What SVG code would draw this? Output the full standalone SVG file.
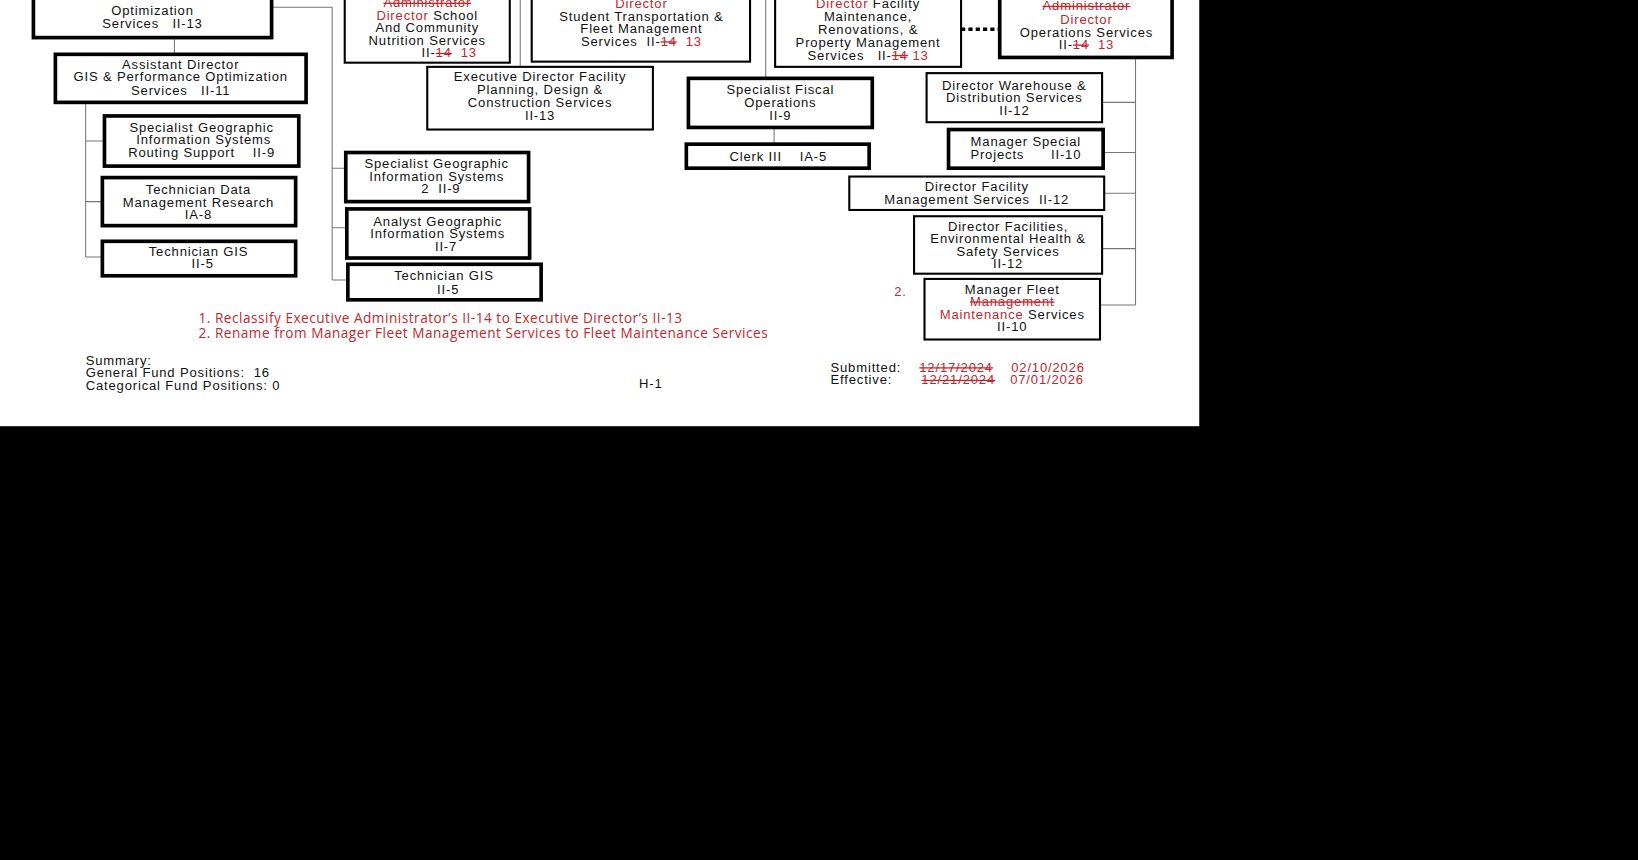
<svg xmlns="http://www.w3.org/2000/svg" width="1638" height="860" viewBox="0 0 1638 860" xml:space="preserve">
<style>
text{font-family:"Liberation Sans",Arial,sans-serif;font-size:12.5px;letter-spacing:0.8px;fill:#111;text-anchor:middle;white-space:pre}
.r{fill:#c0272d}
.s{fill:#c0272d;text-decoration:line-through}
.note{font-family:"Open Sans","Liberation Sans",sans-serif;font-size:13px;letter-spacing:0.5px;fill:#c0272d;text-anchor:start}
.l{text-anchor:start}
.b4{fill:#fff;stroke:#000;stroke-width:3.5}
.b2{fill:#fff;stroke:#000;stroke-width:2}
.c{fill:none;stroke:#777;stroke-width:1}
</style>
<rect width="1638" height="860" fill="#000"/>
<g transform="scale(1.04464)">
<rect x="0" y="0" width="1148" height="408" fill="#fff"/>
<g id="connectors">
<path class="c" d="M167 36V52M82 98V246M82 135H100M82 193H98M82 246H98M260 7H318V268M318 161H331M318 218H332M318 268H333M498 0V64M733 0V75M741 122V138M1087 55V292M1055 98H1087M1056 146H1087M1057 185H1087M1055 238H1087M1053 292H1087"/>
<path d="M920 28H957" stroke="#000" stroke-width="3.5" stroke-dasharray="4 3"/>
</g>
<g id="n1"><rect class="b4" x="32" y="-6" width="228" height="42"/><text x="146" y="-1">GIS &amp; Performance</text><text x="146" y="14">Optimization</text><text x="146" y="27">Services   II-13</text></g>
<g id="n2"><rect class="b4" x="53" y="52" width="240" height="46"/><text x="173" y="66">Assistant Director</text><text x="173" y="78">GIS &amp; Performance Optimization</text><text x="173" y="91">Services   II-11</text></g>
<g id="n3"><rect class="b4" x="100" y="111" width="186" height="48"/><text x="193" y="126">Specialist Geographic</text><text x="195" y="138">Information Systems</text><text x="193" y="150">Routing Support    II-9</text></g>
<g id="n4"><rect class="b4" x="98" y="170" width="185" height="46"/><text x="190" y="186">Technician Data</text><text x="190" y="198">Management Research</text><text x="190" y="210">IA-8</text></g>
<g id="n5"><rect class="b4" x="98" y="231" width="185" height="33"/><text x="190" y="245">Technician GIS</text><text x="194" y="257">II-5</text></g>
<g id="n6"><rect class="b4" x="331" y="146" width="175" height="47"/><text x="418" y="161">Specialist Geographic</text><text x="418" y="173">Information Systems</text><text x="422" y="185">2  II-9</text></g>
<g id="n7"><rect class="b4" x="332" y="200" width="175" height="47"/><text x="419" y="216">Analyst Geographic</text><text x="419" y="228">Information Systems</text><text x="427" y="240">II-7</text></g>
<g id="n8"><rect class="b4" x="333" y="253" width="185" height="34"/><text x="425" y="268">Technician GIS</text><text x="429" y="281">II-5</text></g>
<g id="n9"><rect class="b2" x="330" y="-6" width="158" height="66"/><text x="409" y="7" class="s">Administrator</text><text x="409" y="19"><tspan class="r">Director</tspan> School</text><text x="409" y="31">And Community</text><text x="409" y="43">Nutrition Services</text><text x="430" y="55">II-<tspan class="s">14</tspan>  <tspan class="r">13</tspan></text></g>
<g id="n10"><rect class="b2" x="509" y="-6" width="209" height="65"/><text x="614" y="8" class="r">Director</text><text x="614" y="20">Student Transportation &amp;</text><text x="614" y="32">Fleet Management</text><text x="614" y="44">Services  II-<tspan class="s">14</tspan>  <tspan class="r">13</tspan></text></g>
<g id="n11"><rect class="b2" x="409" y="64" width="216" height="60"/><text x="517" y="78">Executive Director Facility</text><text x="517" y="90">Planning, Design &amp;</text><text x="517" y="102">Construction Services</text><text x="517" y="115">II-13</text></g>
<g id="n12"><rect class="b2" x="742" y="-6" width="178" height="70"/><text x="831" y="8"><tspan class="r">Director</tspan> Facility</text><text x="831" y="20">Maintenance,</text><text x="831" y="33">Renovations, &amp;</text><text x="831" y="45">Property Management</text><text x="831" y="57">Services   II-<tspan class="s">14</tspan> <tspan class="r">13</tspan></text></g>
<g id="n13"><rect class="b4" x="957" y="-6" width="165" height="61"/><text x="1040" y="10" class="s">Administrator</text><text x="1040" y="23" class="r">Director</text><text x="1040" y="35">Operations Services</text><text x="1040" y="47">II-<tspan class="s">14</tspan>  <tspan class="r">13</tspan></text></g>
<g id="n14"><rect class="b4" x="659" y="75" width="176" height="47"/><text x="747" y="90">Specialist Fiscal</text><text x="747" y="102">Operations</text><text x="747" y="115">II-9</text></g>
<g id="n15"><rect class="b4" x="657" y="138" width="175" height="23"/><text x="745" y="154">Clerk III    IA-5</text></g>
<g id="n16"><rect class="b2" x="887" y="70" width="168" height="47"/><text x="971" y="86">Director Warehouse &amp;</text><text x="971" y="98">Distribution Services</text><text x="971" y="110">II-12</text></g>
<g id="n17"><rect class="b4" x="908" y="124" width="148" height="37"/><text x="982" y="140">Manager Special</text><text x="982" y="152">Projects      II-10</text></g>
<g id="n18"><rect class="b2" x="813" y="169" width="244" height="32"/><text x="935" y="183">Director Facility</text><text x="935" y="195">Management Services  II-12</text></g>
<g id="n19"><rect class="b2" x="875" y="207" width="180" height="55"/><text x="965" y="221">Director Facilities,</text><text x="965" y="233">Environmental Health &amp;</text><text x="965" y="245">Safety Services</text><text x="965" y="257">II-12</text></g>
<g id="n20"><rect class="b2" x="885" y="267" width="168" height="58"/><text x="969" y="281">Manager Fleet</text><text x="969" y="293" class="s">Management</text><text x="969" y="305"><tspan class="r">Maintenance</tspan> Services</text><text x="969" y="317">II-10</text></g>
<text x="862" y="283" class="r">2.</text>
<text x="190" y="309" class="note">1. Reclassify Executive Administrator’s II-14 to Executive Director’s II-13</text>
<text x="190" y="324" class="note">2. Rename from Manager Fleet Management Services to Fleet Maintenance Services</text>
<text x="82" y="349" class="l">Summary:</text>
<text x="82" y="361" class="l">General Fund Positions:  16</text>
<text x="82" y="373" class="l">Categorical Fund Positions: 0</text>
<text x="623" y="371">H-1</text>
<text x="795" y="356" class="l">Submitted:</text>
<text x="795" y="368" class="l">Effective:</text>
<text x="880" y="356" class="l s">12/17/2024</text>
<text x="968" y="356" class="l r">02/10/2026</text>
<text x="882" y="368" class="l s">12/21/2024</text>
<text x="967" y="368" class="l r">07/01/2026</text>
</g>
</svg>
